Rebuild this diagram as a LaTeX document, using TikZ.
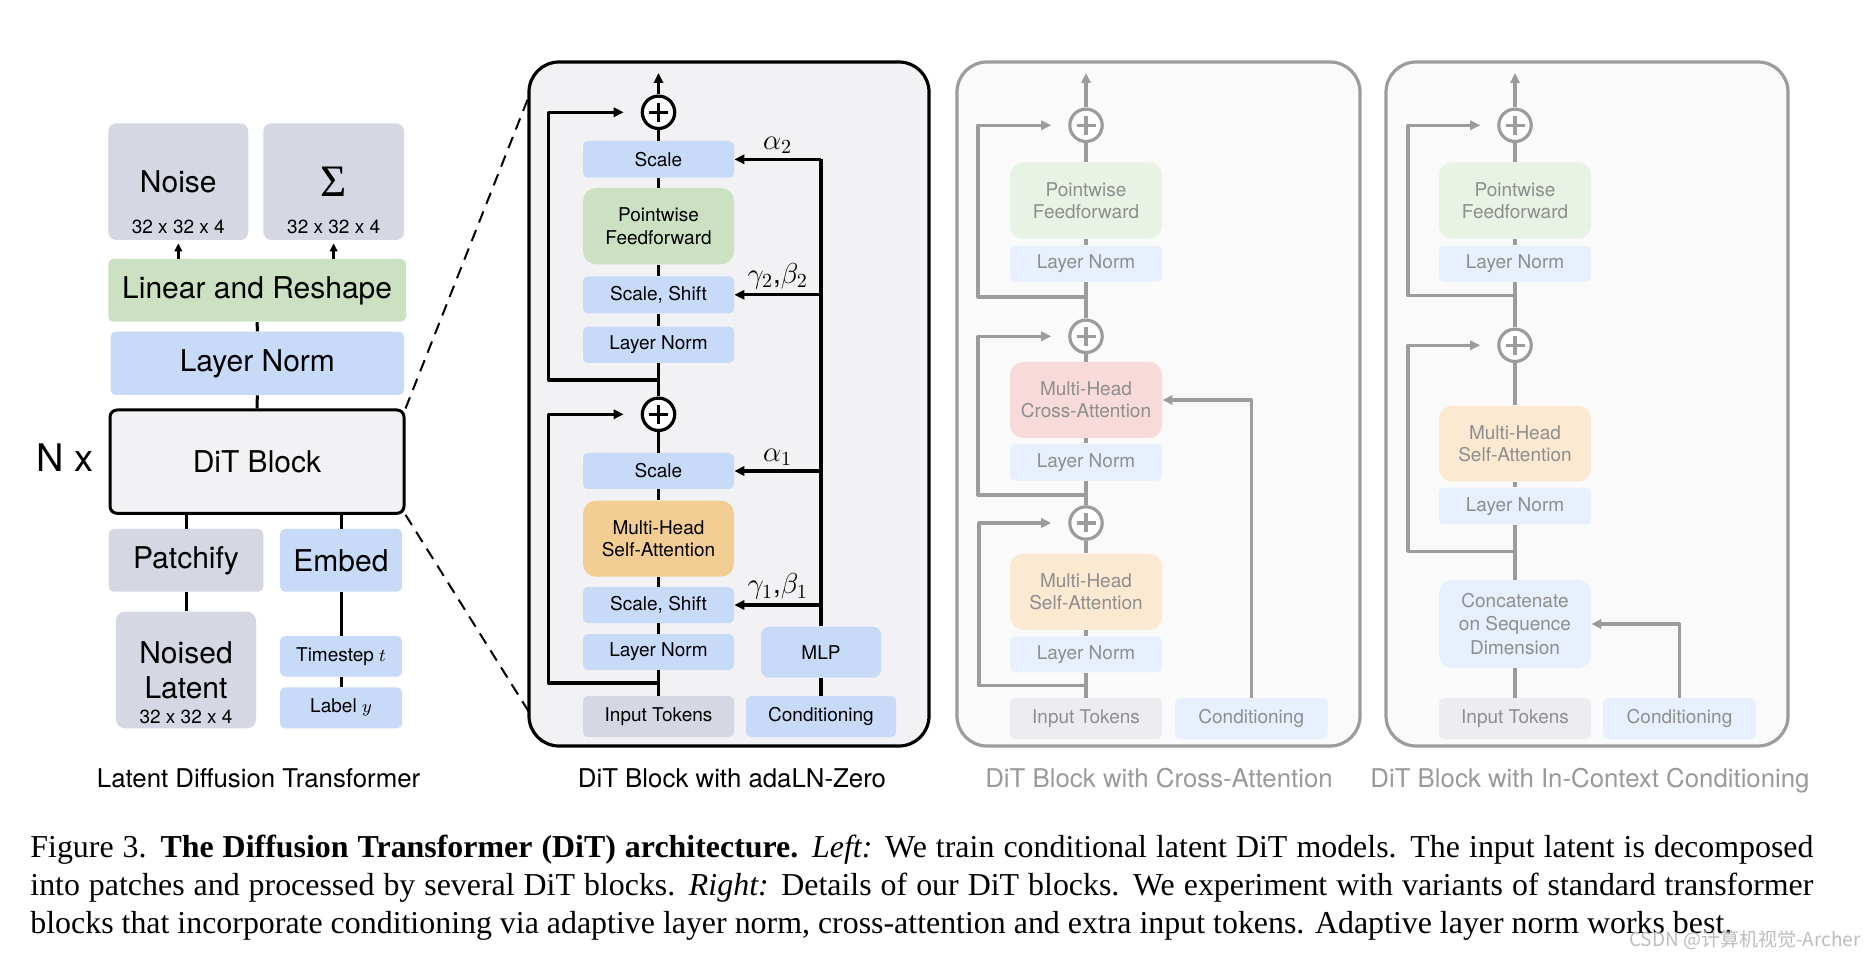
\documentclass[tikz,border=0pt]{standalone}
\usepackage{fontspec}
\setmainfont{TeX Gyre Heros}
\newfontfamily\capfont{Liberation Serif}
\newfontfamily\cjkfont{Noto Sans CJK SC}
\usetikzlibrary{arrows.meta,calc}
\definecolor{cGray}{HTML}{D5D7E3}
\definecolor{cBlue}{HTML}{C7DAF8}
\definecolor{cGreen}{HTML}{CCE1C2}
\definecolor{cOrange}{HTML}{F2CE95}
\definecolor{cPanel}{HTML}{F2F2F4}
\definecolor{cFPanel}{HTML}{FAFAFA}
\definecolor{cFLine}{HTML}{9C9C9C}
\definecolor{cFText}{HTML}{8E8E8E}
\definecolor{cFGray}{HTML}{EDEDF1}
\definecolor{cFBlue}{HTML}{E8F0FD}
\definecolor{cFGreen}{HTML}{E8F2E5}
\definecolor{cFPink}{HTML}{F8DADA}
\definecolor{cFOrange}{HTML}{FBE9D2}
\definecolor{cCapGray}{HTML}{9A9A9A}
\definecolor{cWm}{HTML}{BDBDBD}
\newcommand{\mybox}[7]{\node[#2, minimum width={(#5-#3)*0.5pt}, minimum height={(#6-#4)*0.5pt}] (#1) at ({(#3+#5)/2},{(#4+#6)/2}) {#7};}
\newcommand{\pluslines}[2]{\draw[#2] ([xshift=-4.75pt]#1.center) -- ([xshift=4.75pt]#1.center) ([yshift=-4.75pt]#1.center) -- ([yshift=4.75pt]#1.center);}
\tikzset{
  bx/.style={inner sep=0pt, rounded corners=2.5pt, align=center, text=black, font=\fontsize{9.5}{11.2}\selectfont},
  bigf/.style={font=\fontsize{15}{17}\selectfont},
  smallf/.style={font=\fontsize{9.5}{11.2}\selectfont},
  boxG/.style={bx, fill=cGray},
  boxB/.style={bx, fill=cBlue},
  boxGr/.style={bx, fill=cGreen, rounded corners=6.5pt},
  boxO/.style={bx, fill=cOrange, rounded corners=6.5pt},
  fbx/.style={bx, text=cFText},
  fboxG/.style={fbx, fill=cFGray},
  fboxB/.style={fbx, fill=cFBlue},
  fboxGr/.style={fbx, fill=cFGreen, rounded corners=6.5pt},
  fboxO/.style={fbx, fill=cFOrange, rounded corners=6.5pt},
  fboxP/.style={fbx, fill=cFPink, rounded corners=6.5pt},
  ditbox/.style={bx, bigf, fill=cPanel, draw=black, line width=1.5pt, rounded corners=3.5pt},
  adapanel/.style={inner sep=0pt, fill=cPanel, draw=black, line width=1.6pt, rounded corners=15pt},
  fpanel/.style={inner sep=0pt, fill=cFPanel, draw=cFLine, line width=1.6pt, rounded corners=15pt},
  plusnode/.style={circle, draw=black, fill=white, line width=1.6pt, minimum size=16.2pt, inner sep=0pt},
  fplusnode/.style={plusnode, draw=cFLine},
  ln/.style={line width=1.6pt, draw=black},
  lnL/.style={line width=1.5pt, draw=black},
  arr/.style={ln, -{Triangle[length=5pt,width=4.6pt]}},
  sarr/.style={lnL, -{Triangle[length=4pt,width=3.8pt]}, shorten >=1.5pt},
  fln/.style={line width=1.6pt, draw=cFLine},
  farr/.style={fln, -{Triangle[length=5pt,width=4.6pt]}},
  dsh/.style={line width=1pt, dash pattern=on 6pt off 4pt},
  glab/.style={above, inner sep=2pt, font=\fontsize{14}{16}\selectfont},
  capf/.style={font=\fontsize{12.9}{15}\selectfont, inner sep=0pt, anchor=base},
  figf/.style={font=\capfont\fontsize{15.95}{19}\selectfont, inner sep=0pt, anchor=base west}
}
\begin{document}
\begin{tikzpicture}[x=0.5pt, y=-0.5pt, line join=round]
\fill[white] (0,0) rectangle (1868,956);
\useasboundingbox (0,0) rectangle (1868,956);

% ---------------- Left: Latent Diffusion Transformer ----------------
\mybox{noise}{boxG, rounded corners=4pt}{108.3}{123.3}{248.3}{240}{}
\node[bigf] (noiseT) at (178.3,181.7) {Noise};
\node[smallf] (noiseD) at (178.3,226.7) {32 x 32 x 4};
\mybox{sig}{boxG, rounded corners=4pt}{263.3}{123.3}{404}{240}{}
\node[font=\capfont\fontsize{22.5}{24}\selectfont, inner sep=0pt] (sigT) at (333.7,181.7) {Σ};
\node[smallf] (sigD) at (333.7,226.7) {32 x 32 x 4};
\mybox{lin}{boxGr, bigf, rounded corners=2.5pt}{108.3}{259}{406}{321.7}{Linear and Reshape}
\mybox{lnL}{boxB, bigf}{110.7}{331.7}{404}{395}{Layer Norm}
\mybox{dit}{ditbox}{110}{410}{404}{513.3}{DiT Block}
\node[font=\fontsize{19}{21}\selectfont] (nx) at (65,458) {N x};
\mybox{patch}{boxG, bigf}{108.7}{529}{263.3}{591.7}{Patchify}
\mybox{embed}{boxB, bigf}{280}{529}{402}{591.7}{Embed}
\mybox{noised}{boxG, rounded corners=4.5pt}{116}{611.7}{256}{728.3}{}
\node[bigf] (noisedA) at (186,652.7) {Noised};
\node[bigf] (noisedB) at (186,687.3) {Latent};
\node[smallf] (noisedC) at (186,717.3) {32 x 32 x 4};
\mybox{ts}{boxB}{280}{636}{402}{676.7}{Timestep $t$}
\mybox{lab}{boxB}{280}{687.3}{402}{728.3}{Label $y$}

\draw[sarr] (noise.south |- lin.north) -- (noise.south);
\draw[sarr] (sig.south |- lin.north) -- (sig.south);
\draw[lnL] (lin.south) -- (lnL.north);
\draw[lnL] (lnL.south) -- (dit.north);
\draw[lnL] (dit.south -| patch.north) -- (patch.north);
\draw[lnL] (patch.south) -- (noised.north);
\draw[lnL] (dit.south -| embed.north) -- (embed.north);
\draw[lnL] (embed.south) -- (ts.north);
\draw[lnL] (ts.south) -- (lab.north);

% ---------------- adaLN-Zero panel ----------------
\mybox{ada}{adapanel}{529}{62}{929}{746}{}
\coordinate (dA) at (529,96);
\coordinate (dB) at (529,712);
\draw[dsh] (dit.north east) -- (dA);
\draw[dsh] (dit.south east) -- (dB);

\mybox{aIn}{boxG}{583}{696}{734}{737}{Input Tokens}
\mybox{aCond}{boxB}{746}{696}{896}{737}{Conditioning}
\mybox{aMLP}{boxB, rounded corners=4pt}{761}{626.7}{881}{677.7}{MLP}
\mybox{aLN1}{boxB}{583}{634}{734}{670}{Layer Norm}
\mybox{aSS1}{boxB}{583}{587}{734}{623}{Scale, Shift}
\mybox{aAtt}{boxO}{583}{500.7}{734}{576.7}{Multi-Head\\Self-Attention}
\mybox{aSc1}{boxB}{583}{453}{734}{489}{Scale}
\node[plusnode] (aP1) at (658.5,414.3) {};
\mybox{aLN2}{boxB}{583}{326.7}{734}{363}{Layer Norm}
\mybox{aSS2}{boxB}{583}{276.3}{734}{313.3}{Scale, Shift}
\mybox{aFF}{boxGr}{583}{188}{734}{264.3}{Pointwise\\Feedforward}
\mybox{aSc2}{boxB}{583}{141}{734}{177.7}{Scale}
\node[plusnode] (aP2) at (658.5,112.3) {};
\coordinate (aOut) at (658.5,73);
\coordinate (aR1) at (658.5,683);
\coordinate (aL1) at (548.7,683);
\coordinate (aR2) at (658.5,380);
\coordinate (aL2) at (548.7,380);

\draw[ln] (aIn.north) -- (aLN1.south);
\draw[ln] (aLN1.north) -- (aSS1.south);
\draw[ln] (aSS1.north) -- (aAtt.south);
\draw[ln] (aAtt.north) -- (aSc1.south);
\draw[ln] (aSc1.north) -- (aP1.south);
\draw[ln] (aP1.north) -- (aLN2.south);
\draw[ln] (aLN2.north) -- (aSS2.south);
\draw[ln] (aSS2.north) -- (aFF.south);
\draw[ln] (aFF.north) -- (aSc2.south);
\draw[ln] (aSc2.north) -- (aP2.south);
\draw[arr] (aP2.north) -- (aOut);
\pluslines{aP1}{ln}
\pluslines{aP2}{ln}
\draw[arr] (aR1) -- (aL1) |- ([xshift=-8.5pt]aP1.west);
\draw[arr] (aR2) -- (aL2) |- ([xshift=-8.5pt]aP2.west);
\draw[ln] (aCond.north) -- (aMLP.south);
\draw[ln] (aMLP.north) -- (aMLP.north |- aSc2.east);
\draw[arr] (aMLP.north |- aSc2.east) -- node[glab] {$\alpha_2$} (aSc2.east);
\draw[arr] (aMLP.north |- aSS2.east) -- node[glab] {$\gamma_2$,$\beta_2$} (aSS2.east);
\draw[arr] (aMLP.north |- aSc1.east) -- node[glab] {$\alpha_1$} (aSc1.east);
\draw[arr] (aMLP.north |- aSS1.east) -- node[glab] {$\gamma_1$,$\beta_1$} (aSS1.east);

% ---------------- Cross-Attention panel ----------------
\mybox{cp}{fpanel}{957}{62}{1360}{746}{}
\mybox{cIn}{fboxG}{1010}{698}{1162}{739}{Input Tokens}
\mybox{cCond}{fboxB}{1175}{698}{1327.5}{739}{Conditioning}
\mybox{cLN1}{fboxB}{1010}{636.5}{1162}{672.3}{Layer Norm}
\mybox{cSA}{fboxO}{1010}{553.6}{1162}{629.8}{Multi-Head\\Self-Attention}
\node[fplusnode] (cP1) at (1086,523) {};
\mybox{cLN2}{fboxB}{1010}{443.9}{1162}{480.6}{Layer Norm}
\mybox{cCA}{fboxP}{1010}{362}{1162}{438}{Multi-Head\\Cross-Attention}
\node[fplusnode] (cP2) at (1086,336.3) {};
\mybox{cLN3}{fboxB}{1010}{245.8}{1162}{281.7}{Layer Norm}
\mybox{cFF}{fboxGr}{1010}{162.5}{1162}{238.7}{Pointwise\\Feedforward}
\node[fplusnode] (cP3) at (1086,125.3) {};
\coordinate (cOut) at (1086,73);
\coordinate (cR1) at (1086,685.8);
\coordinate (cL1) at (979,685.8);
\coordinate (cR2) at (1086,495);
\coordinate (cL2) at (978,495);
\coordinate (cR3) at (1086,297);
\coordinate (cL3) at (978,297);

\draw[fln] (cIn.north) -- (cLN1.south);
\draw[fln] (cLN1.north) -- (cSA.south);
\draw[fln] (cSA.north) -- (cP1.south);
\draw[fln] (cP1.north) -- (cLN2.south);
\draw[fln] (cLN2.north) -- (cCA.south);
\draw[fln] (cCA.north) -- (cP2.south);
\draw[fln] (cP2.north) -- (cLN3.south);
\draw[fln] (cLN3.north) -- (cFF.south);
\draw[fln] (cFF.north) -- (cP3.south);
\draw[farr] (cP3.north) -- (cOut);
\pluslines{cP1}{fln}
\pluslines{cP2}{fln}
\pluslines{cP3}{fln}
\draw[farr] (cR1) -- (cL1) |- ([xshift=-8.5pt]cP1.west);
\draw[farr] (cR2) -- (cL2) |- ([xshift=-8.5pt]cP2.west);
\draw[farr] (cR3) -- (cL3) |- ([xshift=-8.5pt]cP3.west);
\draw[farr] (cCond.north) |- (cCA.east);

% ---------------- In-Context panel ----------------
\mybox{ip}{fpanel}{1386}{62}{1788}{746}{}
\mybox{iIn}{fboxG}{1439}{698}{1591}{739}{Input Tokens}
\mybox{iCond}{fboxB}{1603}{698}{1756}{739}{Conditioning}
\mybox{iCat}{fboxB, rounded corners=6.5pt, font=\fontsize{9.5}{11.7}\selectfont}{1439}{580}{1591}{668}{Concatenate\\on Sequence\\Dimension}
\mybox{iLN1}{fboxB}{1439}{487.8}{1591}{524.5}{Layer Norm}
\mybox{iSA}{fboxO}{1439}{405.8}{1591}{481.5}{Multi-Head\\Self-Attention}
\node[fplusnode] (iP1) at (1515,345.3) {};
\mybox{iLN2}{fboxB}{1439}{245.8}{1591}{281.7}{Layer Norm}
\mybox{iFF}{fboxGr}{1439}{162.5}{1591}{238.7}{Pointwise\\Feedforward}
\node[fplusnode] (iP2) at (1515,125.3) {};
\coordinate (iOut) at (1515,73);
\coordinate (iR1) at (1515,551.4);
\coordinate (iL1) at (1408,551.4);
\coordinate (iR2) at (1515,295.6);
\coordinate (iL2) at (1408,295.6);

\draw[fln] (iIn.north) -- (iCat.south);
\draw[fln] (iCat.north) -- (iLN1.south);
\draw[fln] (iLN1.north) -- (iSA.south);
\draw[fln] (iSA.north) -- (iP1.south);
\draw[fln] (iP1.north) -- (iLN2.south);
\draw[fln] (iLN2.north) -- (iFF.south);
\draw[fln] (iFF.north) -- (iP2.south);
\draw[farr] (iP2.north) -- (iOut);
\pluslines{iP1}{fln}
\pluslines{iP2}{fln}
\draw[farr] (iR1) -- (iL1) |- ([xshift=-8.5pt]iP1.west);
\draw[farr] (iR2) -- (iL2) |- ([xshift=-8.5pt]iP2.west);
\draw[farr] (iCond.north) |- (iCat.east);

% ---------------- Panel captions ----------------
\node[capf] (cap1) at (258.6,787) {Latent Diffusion Transformer};
\node[capf] (cap2) at (732,787) {DiT Block with adaLN-Zero};
\node[capf, text=cCapGray] (cap3) at (1159,787) {DiT Block with Cross-Attention};
\node[capf, text=cCapGray] (cap4) at (1590,787) {DiT Block with In-Context Conditioning};

% ---------------- Figure caption ----------------
\node[figf] (fig1) at (30,857) {\makebox[891.5pt][s]{Figure 3. \textbf{The Diffusion Transformer (DiT) architecture.} \textit{Left:} We train conditional latent DiT models. The input latent is decomposed}};
\node[figf] (fig2) at (30,895) {\makebox[891.5pt][s]{into patches and processed by several DiT blocks. \textit{Right:} Details of our DiT blocks. We experiment with variants of standard transformer}};
\node[figf] (fig3) at (30,933) {blocks that incorporate conditioning via adaptive layer norm, cross-attention and extra input tokens. Adaptive layer norm works best.};
\node[font=\cjkfont\fontsize{9.5}{11}\selectfont, text=cWm, inner sep=0pt] (wm) at (1745,940) {CSDN @计算机视觉-Archer};
\end{tikzpicture}
\end{document}
